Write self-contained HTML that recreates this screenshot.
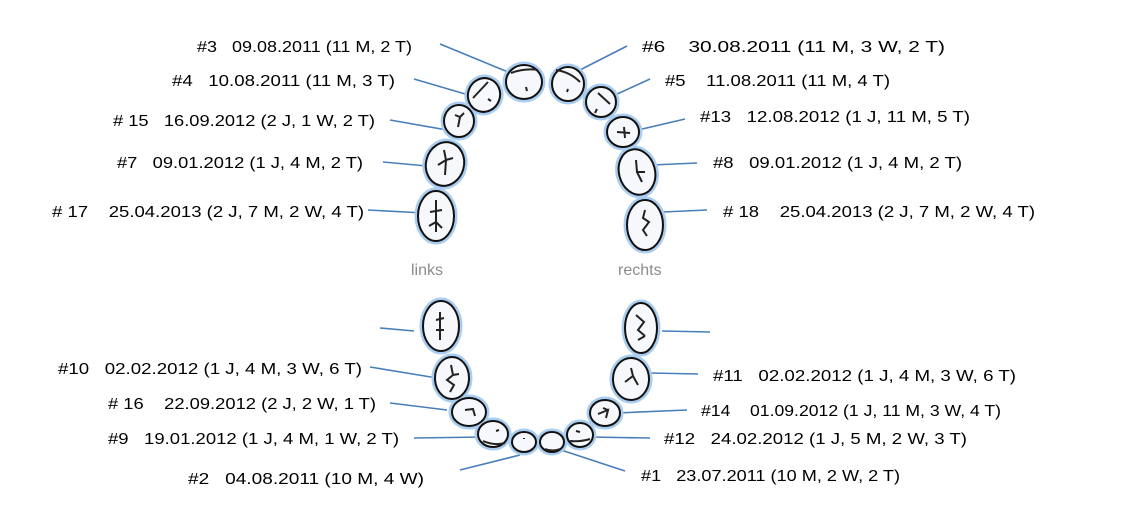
<!DOCTYPE html>
<html><head><meta charset="utf-8"><style>
html,body{margin:0;padding:0;background:#fff}
svg{display:block}
text{font-family:"Liberation Sans",sans-serif;font-size:16px;fill:#000;white-space:pre}
</style></head><body>
<svg width="1124" height="510" viewBox="0 0 1124 510" xmlns="http://www.w3.org/2000/svg" xml:space="preserve">
<g stroke="#4a7ebb" stroke-width="1.6">
<line x1="440" y1="44" x2="508" y2="72"/>
<line x1="627" y1="46" x2="578" y2="71"/>
<line x1="414" y1="79" x2="472" y2="96"/>
<line x1="650" y1="79" x2="615" y2="95"/>
<line x1="390" y1="120" x2="447" y2="130"/>
<line x1="685" y1="119" x2="638" y2="130"/>
<line x1="383" y1="162" x2="427" y2="166"/>
<line x1="697" y1="163" x2="652" y2="165"/>
<line x1="368" y1="210" x2="424" y2="213"/>
<line x1="707" y1="210" x2="663" y2="212"/>
<line x1="380" y1="328" x2="414" y2="331"/>
<line x1="370" y1="367" x2="437" y2="378"/>
<line x1="390" y1="403" x2="447" y2="410"/>
<line x1="414" y1="438" x2="484" y2="437"/>
<line x1="460" y1="470" x2="520" y2="455"/>
<line x1="625" y1="471" x2="558" y2="449"/>
<line x1="650" y1="438" x2="590" y2="437"/>
<line x1="687" y1="410" x2="617" y2="413"/>
<line x1="698" y1="374" x2="650" y2="373"/>
<line x1="710" y1="332" x2="662" y2="331"/>
</g>
<g fill="#f6f8fb">
<g stroke="#a9cdf0" stroke-width="7">
<ellipse cx="524" cy="82" rx="18" ry="17"/>
<ellipse cx="568" cy="84" rx="16" ry="17"/>
<ellipse cx="484" cy="95" rx="16" ry="17" transform="rotate(20 484 95)"/>
<ellipse cx="601" cy="102" rx="15" ry="15"/>
<ellipse cx="459" cy="121" rx="15" ry="16"/>
<ellipse cx="623" cy="132" rx="16" ry="15"/>
<ellipse cx="445" cy="164" rx="19" ry="22" transform="rotate(15 445 164)"/>
<ellipse cx="637" cy="172" rx="18" ry="23" transform="rotate(-15 637 172)"/>
<ellipse cx="436" cy="216" rx="18" ry="25"/>
<ellipse cx="645" cy="225" rx="18" ry="25"/>
<ellipse cx="441" cy="326" rx="18" ry="25"/>
<ellipse cx="452" cy="378" rx="17" ry="21"/>
<ellipse cx="469" cy="412" rx="17" ry="14"/>
<ellipse cx="493" cy="434" rx="15" ry="13"/>
<ellipse cx="524" cy="442" rx="12" ry="10"/>
<ellipse cx="552" cy="442" rx="12" ry="10"/>
<ellipse cx="580" cy="435" rx="13" ry="12"/>
<ellipse cx="605" cy="413" rx="15" ry="13"/>
<ellipse cx="631" cy="379" rx="18" ry="21"/>
<ellipse cx="641" cy="328" rx="16" ry="25"/>
</g>
<g stroke="#111" stroke-width="2">
<ellipse cx="524" cy="82" rx="18" ry="17"/>
<ellipse cx="568" cy="84" rx="16" ry="17"/>
<ellipse cx="484" cy="95" rx="16" ry="17" transform="rotate(20 484 95)"/>
<ellipse cx="601" cy="102" rx="15" ry="15"/>
<ellipse cx="459" cy="121" rx="15" ry="16"/>
<ellipse cx="623" cy="132" rx="16" ry="15"/>
<ellipse cx="445" cy="164" rx="19" ry="22" transform="rotate(15 445 164)"/>
<ellipse cx="637" cy="172" rx="18" ry="23" transform="rotate(-15 637 172)"/>
<ellipse cx="436" cy="216" rx="18" ry="25"/>
<ellipse cx="645" cy="225" rx="18" ry="25"/>
<ellipse cx="441" cy="326" rx="18" ry="25"/>
<ellipse cx="452" cy="378" rx="17" ry="21"/>
<ellipse cx="469" cy="412" rx="17" ry="14"/>
<ellipse cx="493" cy="434" rx="15" ry="13"/>
<ellipse cx="524" cy="442" rx="12" ry="10"/>
<ellipse cx="552" cy="442" rx="12" ry="10"/>
<ellipse cx="580" cy="435" rx="13" ry="12"/>
<ellipse cx="605" cy="413" rx="15" ry="13"/>
<ellipse cx="631" cy="379" rx="18" ry="21"/>
<ellipse cx="641" cy="328" rx="16" ry="25"/>
</g>
</g>
<g stroke="#222" stroke-width="2" fill="none">
<path d="M511 73 Q525 68 538 70"/><path d="M526 87 l1 4"/>
<path d="M556 70 Q570 72 580 82"/><path d="M567 92 l1 -3"/>
<path d="M473 98 L488 82"/><path d="M488 99 l3 2"/>
<path d="M598 93 L610 104"/><path d="M595 113 l2 -4"/>
<path d="M458 127 L460 117 L464 113 M460 117 L455 115"/>
<path d="M617 132 L630 133 M624 127 L625 138"/>
<path d="M444 150 L446 160 L438 165 M446 160 L453 158 M446 160 L445 175"/>
<path d="M636 160 L637 172 L645 172 M637 172 L642 182"/>
<path d="M436 200 L436 232 M430 212 L442 210 M436 222 L429 226 M436 222 L442 228"/>
<path d="M645 210 L643 218 L649 222 L643 230 L647 236"/>
<path d="M440 312 L440 340 M436 320 L444 318 M436 330 L444 330"/>
<path d="M451 365 L453 375 L447 380 L454 385 L450 392 M453 375 L459 374"/>
<path d="M465 410 L473 409 L475 416"/>
<path d="M483 441 Q495 446 505 443"/><path d="M496 431 l3 -1"/>
<path d="M524 438 l0 1"/><path d="M545 449 Q553 452 560 449"/>
<path d="M570 441 Q580 442 590 439"/><path d="M576 431 l4 1"/>
<path d="M598 414 L608 410 L606 418 M603 408 L608 410"/>
<path d="M625 382 L633 376 L638 385 M633 376 L631 368"/>
<path d="M636 315 L644 322 L638 330 L645 336 M638 340 L645 336"/>
</g>
<text x="197" y="52" textLength="215" lengthAdjust="spacingAndGlyphs">#3   09.08.2011 (11 M, 2 T)</text>
<text x="172" y="86" textLength="223" lengthAdjust="spacingAndGlyphs">#4   10.08.2011 (11 M, 3 T)</text>
<text x="113" y="126" textLength="262" lengthAdjust="spacingAndGlyphs"># 15   16.09.2012 (2 J, 1 W, 2 T)</text>
<text x="117" y="168" textLength="246" lengthAdjust="spacingAndGlyphs">#7   09.01.2012 (1 J, 4 M, 2 T)</text>
<text x="52" y="217" textLength="312" lengthAdjust="spacingAndGlyphs"># 17    25.04.2013 (2 J, 7 M, 2 W, 4 T)</text>
<text x="642" y="52" textLength="303" lengthAdjust="spacingAndGlyphs">#6    30.08.2011 (11 M, 3 W, 2 T)</text>
<text x="665" y="86" textLength="225" lengthAdjust="spacingAndGlyphs">#5    11.08.2011 (11 M, 4 T)</text>
<text x="700" y="122" textLength="270" lengthAdjust="spacingAndGlyphs">#13   12.08.2012 (1 J, 11 M, 5 T)</text>
<text x="713" y="168" textLength="249" lengthAdjust="spacingAndGlyphs">#8   09.01.2012 (1 J, 4 M, 2 T)</text>
<text x="723" y="217" textLength="312" lengthAdjust="spacingAndGlyphs"># 18    25.04.2013 (2 J, 7 M, 2 W, 4 T)</text>
<text x="411" y="275" style="fill:#8c8c8c">links</text>
<text x="618" y="275" style="fill:#8c8c8c">rechts</text>
<text x="58" y="374" textLength="304" lengthAdjust="spacingAndGlyphs">#10   02.02.2012 (1 J, 4 M, 3 W, 6 T)</text>
<text x="108" y="409" textLength="268" lengthAdjust="spacingAndGlyphs"># 16    22.09.2012 (2 J, 2 W, 1 T)</text>
<text x="108" y="444" textLength="291" lengthAdjust="spacingAndGlyphs">#9   19.01.2012 (1 J, 4 M, 1 W, 2 T)</text>
<text x="188" y="484" textLength="236" lengthAdjust="spacingAndGlyphs">#2   04.08.2011 (10 M, 4 W)</text>
<text x="713" y="381" textLength="303" lengthAdjust="spacingAndGlyphs">#11   02.02.2012 (1 J, 4 M, 3 W, 6 T)</text>
<text x="701" y="416" textLength="300" lengthAdjust="spacingAndGlyphs">#14    01.09.2012 (1 J, 11 M, 3 W, 4 T)</text>
<text x="664" y="444" textLength="303" lengthAdjust="spacingAndGlyphs">#12   24.02.2012 (1 J, 5 M, 2 W, 3 T)</text>
<text x="641" y="481" textLength="259" lengthAdjust="spacingAndGlyphs">#1   23.07.2011 (10 M, 2 W, 2 T)</text>
</svg>
</body></html>
